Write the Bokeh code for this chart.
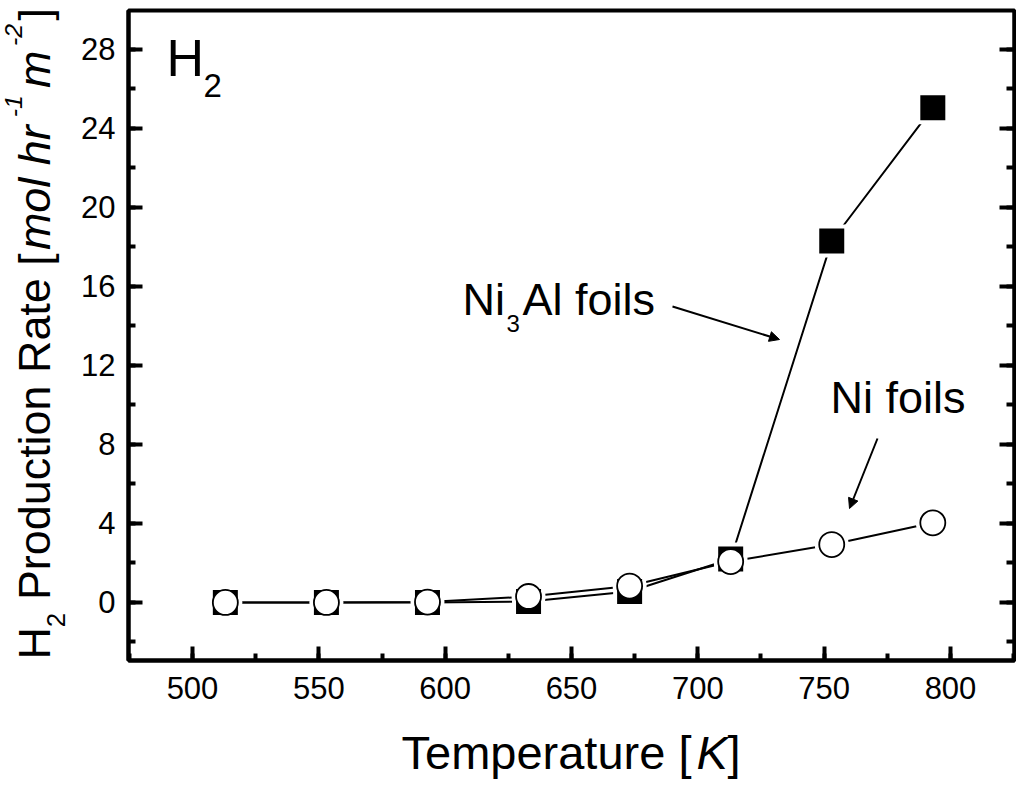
import math
from bokeh.plotting import figure
from bokeh.layouts import gridplot
from bokeh.models import (Range1d, LinearAxis, SingleIntervalTicker, Label, Plot,
                          Arrow, NormalHead, ColumnDataSource, CustomJSTickFormatter)
from bokeh.embed import file_html
from bokeh.resources import INLINE

# ---------------- data ----------------
temperature = [513, 553, 593, 633, 673, 713, 753, 793]
ni3al_rate = [0.0, 0.0, 0.0, 0.05, 0.55, 2.2, 18.3, 25.05]
ni_rate = [0.0, 0.0, 0.02, 0.3, 0.83, 2.07, 2.93, 4.03]
x_tick_step = 50
y_tick_step = 4

FONT = "Liberation Sans"
DESC = 0.21        # font descent (em); labels are anchored at the text-box bottom

# page geometry (pixels from the top-left corner of the picture)
YW = 70            # width of the y-title strip
MW, MH = 946, 715  # main figure
XH = 71            # height of the x-title strip
FL, FR, FT, FB = 128, 1014, 10, 660   # plot frame
BL, BR, BT, BB = FL - YW, YW + MW - FR, FT, MH - FB   # main borders
X0, X1 = 474.67, 825.33
Y0, Y1 = -2.94, 29.97


def dx(px):
    return X0 + (px - FL) * (X1 - X0) / (FR - FL)


def dy(py):
    return Y0 + (FB - py) * (Y1 - Y0) / (FB - FT)


# ---------------- main plot ----------------
p = figure(width=MW, height=MH, output_backend="svg", toolbar_location=None,
           x_range=Range1d(X0, X1), y_range=Range1d(Y0, Y1), title=None,
           min_border_left=BL, min_border_right=BR,
           min_border_top=BT, min_border_bottom=BB)
p.grid.visible = False
p.background_fill_color = "white"
p.border_fill_color = "white"
p.outline_line_color = "black"
p.outline_line_width = 4
p.outline_line_alpha = 1.0


def style_axis(ax):
    ax.axis_line_width = 4
    ax.axis_line_color = "black"
    ax.major_tick_line_width = 4
    ax.minor_tick_line_width = 4
    ax.major_tick_line_color = "black"
    ax.minor_tick_line_color = "black"
    ax.major_tick_in = 14
    ax.major_tick_out = 0
    ax.minor_tick_in = 7
    ax.minor_tick_out = 0
    ax.major_label_text_font = FONT
    ax.major_label_text_color = "black"
    ax.major_label_text_font_size = "31px"


xa = p.xaxis[0]
xa.ticker = SingleIntervalTicker(interval=x_tick_step, num_minor_ticks=2)
style_axis(xa)
xa.major_label_standoff = 16

ya = p.yaxis[0]
ya.ticker = SingleIntervalTicker(interval=y_tick_step, num_minor_ticks=2)
style_axis(ya)
ya.major_label_standoff = 13

ra = LinearAxis(ticker=SingleIntervalTicker(interval=y_tick_step, num_minor_ticks=2),
                formatter=CustomJSTickFormatter(code="return ''"))
style_axis(ra)
ra.major_label_text_font_size = "1px"
ra.major_label_standoff = 0
ra.major_tick_in = 15
ra.minor_tick_in = 8
p.add_layout(ra, "right")

src = ColumnDataSource(dict(t=temperature, a=ni3al_rate, n=ni_rate))
p.line("t", "a", source=src, line_width=2, line_color="black")
p.line("t", "n", source=src, line_width=2, line_color="black")
# white gaps around the markers (Origin style)
p.scatter("t", "a", source=src, marker="square", size=33,
          fill_color="white", line_color=None)
p.scatter("t", "n", source=src, marker="circle", size=34,
          fill_color="white", line_color=None)
p.scatter("t", "a", source=src, marker="square", size=25,
          fill_color="black", line_color=None)
p.scatter("t", "n", source=src, marker="circle", size=25,
          fill_color="white", line_color="black", line_width=1.8)


def lab(fig, x, y, text, size, italic=False, angle=0.0):
    fig.add_layout(Label(x=x, y=y, text=text, text_font=FONT,
                         text_font_size=f"{size}px",
                         text_font_style="italic" if italic else "normal",
                         text_color="black", text_align="left",
                         text_baseline="bottom", angle=angle))


def mlab(px, py, text, size, italic=False, shift=None):
    # (px, py): page position of the text start on its baseline
    sh = DESC * size if shift is None else shift
    lab(p, dx(px), dy(py + sh), text, size, italic)


mlab(166, 76, "H", 52)
mlab(203, 97, "2", 33, shift=-1)
mlab(462, 315, "Ni", 45)
mlab(506, 335, "3", 24, shift=-4)
mlab(522, 315, "Al foils", 45)
mlab(830, 413, "Ni foils", 45)

p.add_layout(Arrow(end=NormalHead(size=10, fill_color="black", line_color="black"),
                   x_start=dx(672), y_start=dy(306), x_end=dx(779), y_end=dy(339),
                   line_width=2, line_color="black"))
p.add_layout(Arrow(end=NormalHead(size=10, fill_color="black", line_color="black"),
                   x_start=dx(877), y_start=dy(438), x_end=dx(849), y_end=dy(508),
                   line_width=2, line_color="black"))


def strip(w, h, xr, yr, bl, br, bt, bb):
    return Plot(width=w, height=h, output_backend="svg", toolbar_location=None,
                title=None, x_range=Range1d(*xr), y_range=Range1d(*yr),
                min_border_left=bl, min_border_right=br,
                min_border_top=bt, min_border_bottom=bb,
                outline_line_color=None, background_fill_color="white",
                border_fill_color="white")


# ---------------- y axis title (rotated strip, page coordinates) ----------------
yf = strip(YW, MH, (0, YW), (FB, FT), 0, 0, BT, BB)
R = math.pi / 2
s = 0.977
YB = 659
# text, offset along the title, baseline x, font size, italic, baseline shift
yt = [("H", 0, 50, 46, False, None), ("2", 32.2, 67, 26.4, False, -3.0),
      ("Production Rate [", 59.4, 50, 46, False, None),
      ("mol hr", 409.4, 50, 46, True, None), ("-1", 542.2, 24.6, 25.4, True, -3.3),
      ("m", 571.4, 50, 46, True, None), ("-2", 613.6, 24.6, 25.4, True, -3.3),
      ("]", 639.0, 50, 46, False, None)]
for txt, off, bx, fs, it, sh in yt:
    f = round(fs * s, 1)
    shift = DESC * f if sh is None else sh
    lab(yf, bx + shift, YB - off, txt, f, italic=it, angle=R)

# ---------------- x axis title strip (page coordinates) ----------------
xf = strip(MW, XH, (FL, FR), (MH + XH, MH), BL, BR, 0, 0)
for txt, px, it in [("Temperature [", 401, False), ("K", 696, True), ("]", 727, False)]:
    lab(xf, px, 768.5 + DESC * 47, txt, 47, italic=it)

layout = gridplot([[yf, p], [None, xf]], toolbar_location=None)
open("out.html", "w").write(file_html(layout, INLINE))
